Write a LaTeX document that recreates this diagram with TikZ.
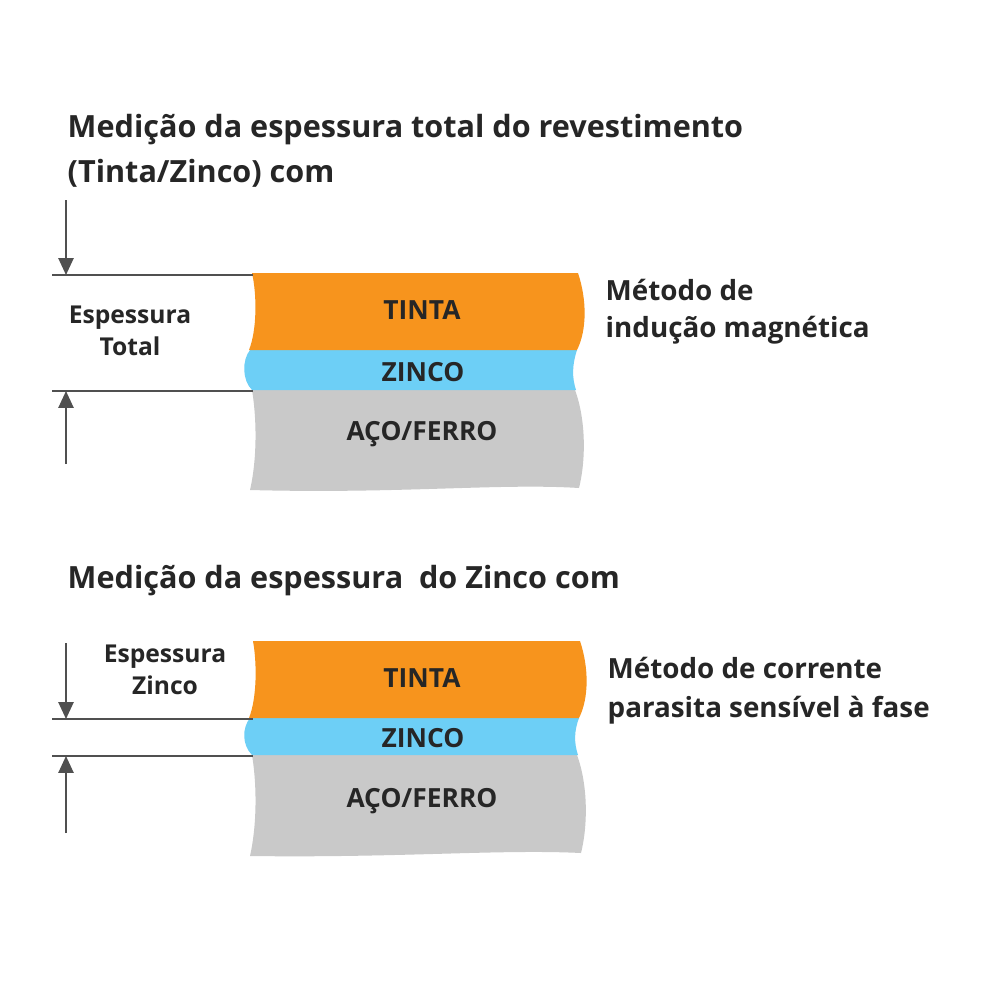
\documentclass[tikz,border=0pt]{standalone}
\usepackage{fontspec}
\setmainfont{Open Sans}
\usetikzlibrary{arrows.meta}
\definecolor{tinta}{HTML}{F7941D}
\definecolor{zinco}{HTML}{6DCFF6}
\definecolor{aco}{HTML}{C9C9C9}
\definecolor{linha}{HTML}{505050}
\tikzset{
  titulo/.style={anchor=west,inner sep=0pt,font=\fontsize{8.7}{10}\selectfont\bfseries,text=black!85},
  metodo/.style={anchor=west,inner sep=0pt,font=\fontsize{7.9}{9}\selectfont\bfseries,text=black!85},
  camada/.style={inner sep=0pt,font=\fontsize{7.5}{8}\selectfont\bfseries,text=black!85},
  rotulo/.style={inner sep=0pt,font=\fontsize{7.0}{8}\selectfont\bfseries,text=black!85,align=center},
  guia/.style={draw=linha,line width=0.55pt},
  seta/.style={draw=linha,line width=0.55pt,-{Triangle[width=4.3pt,length=4.8pt]}},
}
\begin{document}
\begin{tikzpicture}[x=0.01cm,y=-0.01cm]
\useasboundingbox (0,0) rectangle (1000,1000);
\fill[white] (0,0) rectangle (1000,1000);

% ---------- top ----------
\node[titulo] (t1) at (67,130) {Medição da espessura total do revestimento};
\node[titulo] (t2) at (67,173) {(Tinta/Zinco) com};

\fill[aco] (252,390) -- (575,390) .. controls (586,420) and (586,460) .. (579,488)
  .. controls (500,483) and (400,494) .. (250,490) .. controls (257,460) and (257,420) .. (252,390) -- cycle;
\fill[zinco] (250,350) -- (577,350) .. controls (572,365) and (572,378) .. (576,390)
  -- (252,390) .. controls (242,380) and (242,360) .. (250,350) -- cycle;
\fill[tinta] (252,273) -- (578,273) .. controls (587,300) and (587,330) .. (577,350)
  -- (249,350) .. controls (257,330) and (257,295) .. (252,273) -- cycle;

\node[camada] (ta1) at (422,310) {TINTA};
\node[camada] (zi1) at (423,372) {ZINCO};
\node[camada] (ac1) at (422,434) {AÇO/FERRO};
\node[rotulo] (es1) at (130,331) {Espessura\\[1pt]Total};
\node[metodo] (m1a) at (605,290) {Método de};
\node[metodo] (m1b) at (605,330) {indução magnética};

\coordinate (l1a) at (52,275); \coordinate (l1b) at (253,275);
\coordinate (l2a) at (52,391); \coordinate (l2b) at (253,391);
\draw[guia] (l1a) -- (l1b);
\draw[guia] (l2a) -- (l2b);
\coordinate (a1s) at (66,200); \coordinate (a1e) at (66,275);
\coordinate (a2s) at (66,464); \coordinate (a2e) at (66,391);
\draw[seta] (a1s) -- (a1e);
\draw[seta] (a2s) -- (a2e);

% ---------- bottom ----------
\node[titulo] (t3) at (67,581) {Medição da espessura \ do Zinco com};

\fill[aco] (252,755) -- (577,755) .. controls (588,785) and (588,825) .. (581,853)
  .. controls (500,849) and (400,858) .. (250,856) .. controls (257,825) and (257,785) .. (252,755) -- cycle;
\fill[zinco] (250,718) -- (579,718) .. controls (574,731) and (574,743) .. (578,755)
  -- (252,755) .. controls (242,745) and (242,728) .. (250,718) -- cycle;
\fill[tinta] (253,641) -- (580,641) .. controls (589,668) and (589,698) .. (579,718)
  -- (249,718) .. controls (257,698) and (257,663) .. (253,641) -- cycle;

\node[camada] (ta2) at (422,678) {TINTA};
\node[camada] (zi2) at (423,738) {ZINCO};
\node[camada] (ac2) at (422,801) {AÇO/FERRO};
\node[rotulo] (es2) at (165,670) {Espessura\\[1pt]Zinco};
\node[metodo] (m2a) at (607,668) {Método de corrente};
\node[metodo] (m2b) at (607,710) {parasita sensível à fase};

\coordinate (l3a) at (52,719); \coordinate (l3b) at (253,719);
\coordinate (l4a) at (52,756); \coordinate (l4b) at (253,756);
\draw[guia] (l3a) -- (l3b);
\draw[guia] (l4a) -- (l4b);
\coordinate (a3s) at (66,643); \coordinate (a3e) at (66,719);
\coordinate (a4s) at (66,833); \coordinate (a4e) at (66,756);
\draw[seta] (a3s) -- (a3e);
\draw[seta] (a4s) -- (a4e);
\end{tikzpicture}
\end{document}
